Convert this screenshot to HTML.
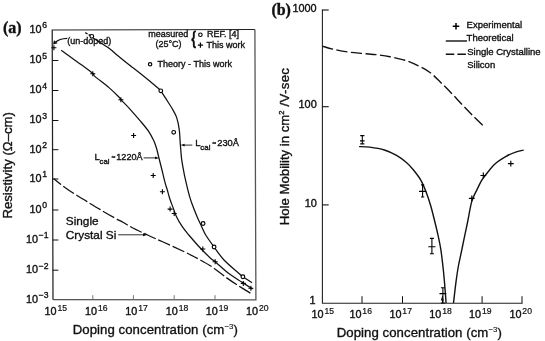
<!DOCTYPE html>
<html><head><meta charset="utf-8"><title>Figure</title>
<style>
html,body{margin:0;padding:0;background:#fff;}
body{width:545px;height:341px;overflow:hidden;}
svg{display:block;}
text{font-family:"Liberation Sans",sans-serif;fill:#111;stroke:#111;stroke-width:0.35px;}
.b{font-family:"Liberation Serif",serif;font-weight:bold;font-size:16px;}
.t{font-size:10.3px;}
.s{font-size:8.2px;}
.ax{font-size:13.2px;}
.lg{font-size:9px;}
.lb{font-size:9.5px;}
.sc{font-size:11.8px;}
.ln{fill:none;stroke:#111;stroke-width:1;}
.cv{fill:none;stroke:#111;stroke-width:1.25;stroke-linecap:butt;}
.mk{fill:none;stroke:#000;stroke-width:0.8;}
</style></head><body>
<svg width="545" height="341" viewBox="0 0 545 341">
<rect width="545" height="341" fill="#fff"/>

<g>
<path style="stroke-width:1.25;stroke:#222" class="ln" d="M53 299.7 L52.2 30 L254.9 29.5"/>
<path style="stroke-width:1.3;stroke:#555" class="ln" d="M254.9 29.5 L255.9 299.9 L53 299.7"/>
<text class="t" transform="translate(29.6,32.9) scale(1.05,1)">10<tspan class="s" dx="0.6" dy="-4.5">6</tspan></text>
<line class="ln" x1="52.5" y1="60.5" x2="58.4" y2="60.5"/>
<text class="t" transform="translate(29.6,63.4) scale(1.05,1)">10<tspan class="s" dx="0.6" dy="-4.5">5</tspan></text>
<line class="ln" x1="52.5" y1="90.5" x2="58.4" y2="90.5"/>
<text class="t" transform="translate(29.6,93.4) scale(1.05,1)">10<tspan class="s" dx="0.6" dy="-4.5">4</tspan></text>
<line class="ln" x1="52.5" y1="120.5" x2="58.4" y2="120.5"/>
<text class="t" transform="translate(29.6,123.4) scale(1.05,1)">10<tspan class="s" dx="0.6" dy="-4.5">3</tspan></text>
<line class="ln" x1="52.5" y1="149.7" x2="58.4" y2="149.7"/>
<text class="t" transform="translate(29.6,152.6) scale(1.05,1)">10<tspan class="s" dx="0.6" dy="-4.5">2</tspan></text>
<line class="ln" x1="52.5" y1="179" x2="58.4" y2="179"/>
<text class="t" transform="translate(29.6,181.9) scale(1.05,1)">10<tspan class="s" dx="0.6" dy="-4.5">1</tspan></text>
<line class="ln" x1="52.5" y1="210" x2="58.4" y2="210"/>
<text class="t" transform="translate(29.6,212.9) scale(1.05,1)">10<tspan class="s" dx="0.6" dy="-4.5">0</tspan></text>
<line class="ln" x1="52.5" y1="240" x2="58.4" y2="240"/>
<text class="t" transform="translate(26.1,242.9) scale(1.05,1)">10<tspan class="s" dx="0.6" dy="-4.5">−1</tspan></text>
<line class="ln" x1="52.5" y1="270.2" x2="58.4" y2="270.2"/>
<text class="t" transform="translate(26.1,273.1) scale(1.05,1)">10<tspan class="s" dx="0.6" dy="-4.5">−2</tspan></text>
<text class="t" transform="translate(26.1,302.6) scale(1.05,1)">10<tspan class="s" dx="0.6" dy="-4.5">−3</tspan></text>
<text class="t" transform="translate(44.6,315) scale(1.05,1)">10<tspan class="s" font-size="7.0" dx="0.9" dy="-4.5" style="stroke-width:0.2px">15</tspan></text>
<line style="stroke:#777" class="ln" x1="92.8" y1="299.7" x2="92.8" y2="295.2"/>
<text class="t" transform="translate(85,315) scale(1.05,1)">10<tspan class="s" font-size="7.0" dx="0.9" dy="-4.5" style="stroke-width:0.2px">16</tspan></text>
<line style="stroke:#777" class="ln" x1="133.4" y1="299.7" x2="133.4" y2="295.2"/>
<text class="t" transform="translate(125.3,315) scale(1.05,1)">10<tspan class="s" font-size="7.0" dx="0.9" dy="-4.5" style="stroke-width:0.2px">17</tspan></text>
<line style="stroke:#777" class="ln" x1="174.2" y1="299.7" x2="174.2" y2="295.2"/>
<text class="t" transform="translate(165.7,315) scale(1.05,1)">10<tspan class="s" font-size="7.0" dx="0.9" dy="-4.5" style="stroke-width:0.2px">18</tspan></text>
<line style="stroke:#777" class="ln" x1="215" y1="299.7" x2="215" y2="295.2"/>
<text class="t" transform="translate(205.7,315) scale(1.05,1)">10<tspan class="s" font-size="7.0" dx="0.9" dy="-4.5" style="stroke-width:0.2px">19</tspan></text>
<text class="t" transform="translate(246.1,315) scale(1.05,1)">10<tspan class="s" font-size="7.0" dx="0.9" dy="-4.5" style="stroke-width:0.2px">20</tspan></text>
<text class="ax" letter-spacing="0.06" x="72.7" y="333.8">Doping concentration (cm<tspan font-size="7.8" dy="-5" style="stroke-width:0.1px">−3</tspan><tspan dy="5">)</tspan></text>
<text class="ax" transform="translate(11.6,218.6) rotate(-90)">Resistivity (Ω–cm)</text>
<text class="b" x="2.9" y="33.2">(a)</text>
<path class="cv" d="M88.60 34.60 C89.13 34.88 90.90 35.65 91.80 36.30 C92.70 36.95 91.18 36.55 94.00 38.50 C96.82 40.45 104.72 45.12 108.70 48.00 C112.68 50.88 114.35 52.87 117.90 55.80 C121.45 58.73 127.32 63.48 130.00 65.60 C132.68 67.72 130.88 66.07 134.00 68.50 C137.12 70.93 144.53 76.78 148.70 80.20 C152.87 83.62 156.98 87.23 159.00 89.00 C161.02 90.77 159.82 89.45 160.80 90.80 C161.78 92.15 163.70 95.23 164.90 97.10 C166.10 98.97 166.77 100.05 168.00 102.00 C169.23 103.95 170.85 106.20 172.30 108.80 C173.75 111.40 175.55 114.17 176.70 117.60 C177.85 121.03 178.60 125.00 179.20 129.40 C179.80 133.80 180.03 140.57 180.30 144.00 C180.57 147.43 180.57 147.38 180.80 150.00 C181.03 152.62 181.12 155.63 181.70 159.70 C182.28 163.77 183.37 169.75 184.30 174.40 C185.23 179.05 186.48 184.17 187.30 187.60 C188.12 191.03 188.45 192.40 189.20 195.00 C189.95 197.60 190.50 199.63 191.80 203.20 C193.10 206.77 195.40 212.60 197.00 216.40 C198.60 220.20 199.95 222.90 201.40 226.00 C202.85 229.10 203.58 231.50 205.70 235.00 C207.82 238.50 211.05 242.83 214.10 247.00 C217.15 251.17 219.90 255.63 224.00 260.00 C228.10 264.37 235.57 270.40 238.70 273.20 C241.83 276.00 240.58 275.22 242.80 276.80 C245.02 278.38 250.47 281.72 252.00 282.70"/>
<path class="cv" d="M85.2 32.6 L87.6 34"/>
<path class="cv" d="M61.20 50.30 C64.23 52.48 74.17 59.57 79.40 63.40 C84.63 67.23 89.98 71.10 92.60 73.30 C95.22 75.50 92.37 74.22 95.10 76.60 C97.83 78.98 104.95 84.12 109.00 87.60 C113.05 91.08 117.42 95.48 119.40 97.50 C121.38 99.52 119.18 97.82 120.90 99.70 C122.62 101.58 126.52 105.32 129.70 108.80 C132.88 112.28 136.82 116.80 140.00 120.60 C143.18 124.40 146.48 128.18 148.80 131.60 C151.12 135.02 152.77 138.78 153.90 141.10 C155.03 143.42 155.08 144.02 155.60 145.50 C156.12 146.98 156.47 148.00 157.00 150.00 C157.53 152.00 158.03 154.42 158.80 157.50 C159.57 160.58 160.53 164.22 161.60 168.50 C162.67 172.78 164.25 179.62 165.20 183.20 C166.15 186.78 166.53 187.40 167.30 190.00 C168.07 192.60 168.88 195.98 169.80 198.80 C170.72 201.62 171.70 203.97 172.80 206.90 C173.90 209.83 174.82 213.10 176.40 216.40 C177.98 219.70 180.23 223.60 182.30 226.70 C184.37 229.80 186.00 231.67 188.80 235.00 C191.60 238.33 195.43 242.78 199.10 246.70 C202.77 250.62 208.12 256.00 210.80 258.50 C213.48 261.00 212.25 259.25 215.20 261.70 C218.15 264.15 224.08 269.82 228.50 273.20 C232.92 276.58 237.70 279.37 241.70 282.00 C245.70 284.63 250.70 287.83 252.50 289.00"/>
<path class="cv" stroke-dasharray="12.8 2.8" stroke-dashoffset="3.2" d="M53.70 178.60 C54.92 179.58 57.70 182.05 61.00 184.50 C64.30 186.95 69.22 190.48 73.50 193.30 C77.78 196.12 82.30 198.72 86.70 201.40 C91.10 204.08 95.25 206.65 99.90 209.40 C104.55 212.15 110.68 215.72 114.60 217.90 C118.52 220.08 120.60 220.95 123.40 222.50 C126.20 224.05 127.37 225.12 131.40 227.20 C135.43 229.28 142.22 232.48 147.60 235.00 C152.98 237.52 157.47 239.45 163.70 242.30 C169.93 245.15 179.83 249.65 185.00 252.10 C190.17 254.55 190.27 254.58 194.70 257.00 C199.13 259.42 206.33 263.17 211.60 266.60 C216.87 270.03 222.02 274.53 226.30 277.60 C230.58 280.67 233.05 282.27 237.30 285.00 C241.55 287.73 249.38 292.50 251.80 294.00"/>
<path style="stroke-width:1.1" class="mk" d="M51.40 47.80 H56.40 M53.90 45.30 V50.30"/>
<path style="stroke-width:1.1" class="mk" d="M90.30 73.80 H95.30 M92.80 71.30 V76.30"/>
<path style="stroke-width:1.1" class="mk" d="M118.40 99.70 H123.40 M120.90 97.20 V102.20"/>
<path style="stroke-width:1.1" class="mk" d="M131.10 135.50 H136.10 M133.60 133.00 V138.00"/>
<path style="stroke-width:1.1" class="mk" d="M150.70 175.50 H155.70 M153.20 173.00 V178.00"/>
<path style="stroke-width:1.1" class="mk" d="M159.90 191.80 H164.90 M162.40 189.30 V194.30"/>
<path style="stroke-width:1.1" class="mk" d="M167.60 209.10 H172.60 M170.10 206.60 V211.60"/>
<path style="stroke-width:1.1" class="mk" d="M171.70 213.50 H176.70 M174.20 211.00 V216.00"/>
<path style="stroke-width:1.1" class="mk" d="M200.30 249.00 H205.30 M202.80 246.50 V251.50"/>
<path style="stroke-width:1.1" class="mk" d="M212.70 261.70 H217.70 M215.20 259.20 V264.20"/>
<path style="stroke-width:1.1" class="mk" d="M240.80 283.40 H245.80 M243.30 280.90 V285.90"/>
<path style="stroke-width:1.1" class="mk" d="M248.40 288.30 H253.40 M250.90 285.80 V290.80"/>
<circle style="fill:#fff;stroke:#000;stroke-width:1.15" cx="91.80" cy="36.30" r="1.85"/>
<circle style="fill:#fff;stroke:#000;stroke-width:1.15" cx="160.80" cy="90.80" r="1.85"/>
<circle style="fill:#fff;stroke:#000;stroke-width:1.15" cx="173.70" cy="132.30" r="1.85"/>
<circle style="fill:#fff;stroke:#000;stroke-width:1.15" cx="203.10" cy="223.50" r="1.85"/>
<circle style="fill:#fff;stroke:#000;stroke-width:1.15" cx="214.10" cy="247.00" r="1.85"/>
<circle style="fill:#fff;stroke:#000;stroke-width:1.15" cx="242.90" cy="276.70" r="1.85"/>
<path style="stroke-width:1.35" class="ln" d="M67.3 38.4 C62 38.6 57.8 40 55.4 42.4"/>
<path d="M53 44.6 L54 40.2 L57.6 43.2 Z" fill="#111"/>
<text class="lg" font-size="8.9" x="67.2" y="43.9">(un-doped)</text>
<text class="lg" font-size="8.9" x="148.2" y="36.6">measured</text>
<text class="lg" font-size="8.9" x="155.5" y="47.2">(25°C)</text>
<text class="lg" font-size="8.8" x="207" y="37.4">REF. [4]</text>
<text class="lg" font-size="8.8" x="206.6" y="48.1">This work</text>
<path style="stroke-width:1.2" class="mk" d="M197.80 45.10 H203.00 M200.40 42.50 V47.70"/>
<circle style="fill:#fff;stroke:#000;stroke-width:1.15" cx="200.40" cy="34.70" r="1.75"/>
<path style="stroke-width:1.9" class="ln" d="M195.9 31.4 C194.2 31.3 193.8 32.2 193.8 33.8 L193.8 36.8 C193.8 38.6 193 39.5 191.5 39.7 C193 39.9 193.8 40.8 193.8 42.6 L193.8 45 C193.8 46.6 194.2 47.4 195.9 47.3"/>
<circle style="fill:#fff;stroke:#000;stroke-width:1.15" cx="150.10" cy="64.30" r="1.70"/>
<text class="lg" font-size="9.07" x="157.6" y="66.7">Theory - This work</text>
<text x="94.6" y="159.7" font-size="9.5">L<tspan font-size="7.7" dx="-0.3" dy="4">cal</tspan><tspan font-size="6.5" dy="-5" dx="2.2">≈</tspan><tspan font-size="9.1" dy="1" dx="1.1">1220Å</tspan></text>
<path style="stroke-width:0.9" class="ln" d="M143.6 157.9 H157"/><path d="M159 157.9 L155 156.5 L155 159.3 Z" fill="#111"/>
<text x="195.2" y="146.4" font-size="9.5">L<tspan font-size="7.9" dx="-0.2" dy="4">cal</tspan><tspan font-size="6.5" dy="-5" dx="2.2">≈</tspan><tspan font-size="9.3" dy="1" dx="1.1">230Å</tspan></text>
<path style="stroke-width:0.9" class="ln" d="M192.3 145.1 H183"/><path d="M180.6 145.1 L184.6 143.7 L184.6 146.5 Z" fill="#111"/>
<text class="sc" x="65.8" y="225">Single</text>
<text class="sc" x="65.8" y="239.2">Crystal Si</text>
<path style="stroke-width:0.95;stroke:#222" class="ln" d="M118.2 234.8 H145"/><path d="M147.6 234.8 L143 233.3 L143 236.3 Z" fill="#111"/>
</g>
<g>
<path style="stroke-width:1.1;stroke:#222" class="ln" d="M322.4 9.6 V303.3 H522.6"/>
<line style="stroke-width:1.1" class="ln" x1="322.3" y1="10" x2="328.7" y2="10"/>
<text class="t" font-size="10.1" text-anchor="end" transform="translate(316.7,11.5) scale(1.06,1)">1000</text>
<line style="stroke-width:1.1" class="ln" x1="322.3" y1="106.7" x2="328.7" y2="106.7"/>
<text class="t" font-size="10.1" text-anchor="end" transform="translate(316.7,108.4) scale(1.06,1)">100</text>
<line style="stroke-width:1.1" class="ln" x1="322.3" y1="204.9" x2="328.7" y2="204.9"/>
<text class="t" font-size="10.1" text-anchor="end" transform="translate(316.9,207.2) scale(1.06,1)">10</text>
<text class="t" font-size="10.1" text-anchor="end" transform="translate(315.6,303.5) scale(1.06,1)">1</text>
<text class="t" transform="translate(311.6,318.3) scale(1.05,1)">10<tspan class="s" font-size="7.0" dx="0.9" dy="-4.5" style="stroke-width:0.2px">15</tspan></text>
<line class="ln" x1="362" y1="303.1" x2="362" y2="296.2"/>
<text class="t" transform="translate(349.4,318.3) scale(1.05,1)">10<tspan class="s" font-size="7.0" dx="0.9" dy="-4.5" style="stroke-width:0.2px">16</tspan></text>
<line class="ln" x1="402.5" y1="303.1" x2="402.5" y2="296.2"/>
<text class="t" transform="translate(389.4,318.3) scale(1.05,1)">10<tspan class="s" font-size="7.0" dx="0.9" dy="-4.5" style="stroke-width:0.2px">17</tspan></text>
<line class="ln" x1="442.5" y1="303.1" x2="442.5" y2="296.2"/>
<text class="t" transform="translate(429.3,318.3) scale(1.05,1)">10<tspan class="s" font-size="7.0" dx="0.9" dy="-4.5" style="stroke-width:0.2px">18</tspan></text>
<line class="ln" x1="482.1" y1="303.1" x2="482.1" y2="296.2"/>
<text class="t" transform="translate(469,318.3) scale(1.05,1)">10<tspan class="s" font-size="7.0" dx="0.9" dy="-4.5" style="stroke-width:0.2px">19</tspan></text>
<line class="ln" x1="522" y1="303.1" x2="522" y2="296.2"/>
<text class="t" transform="translate(509.4,318.3) scale(1.05,1)">10<tspan class="s" font-size="7.0" dx="0.9" dy="-4.5" style="stroke-width:0.2px">20</tspan></text>
<text class="ax" letter-spacing="0.06" x="336.7" y="337.2">Doping concentration (cm<tspan font-size="7.8" dy="-5" style="stroke-width:0.1px">−3</tspan><tspan dy="5">)</tspan></text>
<text class="ax" transform="translate(289,225.3) rotate(-90)">Hole Mobility in cm<tspan font-size="7.5" dy="-5.5">2</tspan><tspan dy="5.5" letter-spacing="0.35"> /V-sec</tspan></text>
<text class="b" x="271.4" y="14.6">(b)</text>
<path style="stroke-width:1.4" class="cv" stroke-dasharray="11.1 3.5" d="M322.40 46.20 C324.12 46.68 328.42 48.13 332.70 49.10 C336.98 50.07 342.97 51.27 348.10 52.00 C353.23 52.73 358.73 53.05 363.50 53.50 C368.27 53.95 372.28 54.17 376.70 54.70 C381.12 55.23 385.45 55.82 390.00 56.70 C394.55 57.58 400.93 59.22 404.00 60.00 C407.07 60.78 406.08 60.47 408.40 61.40 C410.72 62.33 414.37 63.80 417.90 65.60 C421.43 67.40 425.80 69.40 429.60 72.20 C433.40 75.00 437.10 78.95 440.70 82.40 C444.30 85.85 447.65 89.23 451.20 92.90 C454.75 96.57 458.48 100.70 462.00 104.40 C465.52 108.10 468.70 111.48 472.30 115.10 C475.90 118.72 481.72 124.27 483.60 126.10"/>
<path style="stroke-width:1.4" class="cv" d="M359.10 146.60 C360.87 146.68 365.48 146.53 369.70 147.10 C373.92 147.67 380.00 148.65 384.40 150.00 C388.80 151.35 392.43 153.12 396.10 155.20 C399.77 157.28 403.50 160.03 406.40 162.50 C409.30 164.97 411.03 166.95 413.50 170.00 C415.97 173.05 419.07 177.03 421.20 180.80 C423.33 184.57 424.72 188.43 426.30 192.60 C427.88 196.77 429.35 201.23 430.70 205.80 C432.05 210.37 433.20 215.18 434.40 220.00 C435.60 224.82 436.83 229.80 437.90 234.70 C438.97 239.60 439.97 244.18 440.80 249.40 C441.63 254.62 442.30 260.72 442.90 266.00 C443.50 271.28 443.87 274.93 444.40 281.10 C444.93 287.27 445.82 299.35 446.10 303.00"/>
<path style="stroke-width:1.4" class="cv" d="M453.50 303.00 C453.93 299.35 455.28 287.27 456.10 281.10 C456.92 274.93 457.63 270.32 458.40 266.00 C459.17 261.68 459.72 259.93 460.70 255.20 C461.68 250.47 463.15 243.13 464.30 237.60 C465.45 232.07 466.35 228.03 467.60 222.00 C468.85 215.97 470.23 206.80 471.80 201.40 C473.37 196.00 475.40 193.03 477.00 189.60 C478.60 186.17 480.10 183.05 481.40 180.80 C482.70 178.55 482.63 178.83 484.80 176.10 C486.97 173.37 490.85 167.70 494.40 164.40 C497.95 161.10 502.43 158.38 506.10 156.30 C509.77 154.22 513.47 152.93 516.40 151.90 C519.33 150.87 522.48 150.40 523.70 150.10"/>
<path style="stroke-width:1.1" class="mk" d="M362.30 135.60 V143.90 M360.20 135.60 H364.40 M360.20 143.90 H364.40 M360.00 140.90 H364.60"/>
<path style="stroke-width:1.1" class="mk" d="M422.60 184.90 V197.00 M421.00 184.90 H424.20 M421.00 197.00 H424.20 M419.00 191.40 H426.20"/>
<path style="stroke-width:1.1" class="mk" d="M431.90 238.40 V253.80 M429.90 238.40 H433.90 M429.90 253.80 H433.90 M428.30 246.70 H435.50"/>
<path style="stroke-width:1.1" class="mk" d="M442.90 287.70 V303.00 M440.90 287.70 H444.90 M440.90 303.00 H444.90 M439.50 293.60 H446.30"/>
<path d="M442.3 295.5 L443.8 300.5 L440.8 300.5 Z" fill="#111"/>
<path style="stroke-width:1.15" class="mk" d="M468.90 198.40 H474.70 M471.80 195.50 V201.30"/>
<path style="stroke-width:1.15" class="mk" d="M480.40 175.50 H486.20 M483.30 172.60 V178.40"/>
<path style="stroke-width:1.15" class="mk" d="M507.90 163.60 H513.70 M510.80 160.70 V166.50"/>
<path style="stroke-width:1.5" class="mk" d="M452.70 26.20 H459.30 M456.00 22.90 V29.50"/>
<text class="lb" x="466.6" y="27.9">Experimental</text>
<text class="lb" x="466.6" y="40.7">Theoretical</text>
<text class="lb" x="467.2" y="54.9">Single Crystalline</text>
<text class="lb" x="467.2" y="68">Silicon</text>
<path style="stroke-width:1.4" class="cv" d="M445.8 41 H467"/>
<path style="stroke-width:1.4" class="cv" d="M445.8 54.3 H454.3 M457.4 54.3 H465.9"/>
</g>
</svg></body></html>
